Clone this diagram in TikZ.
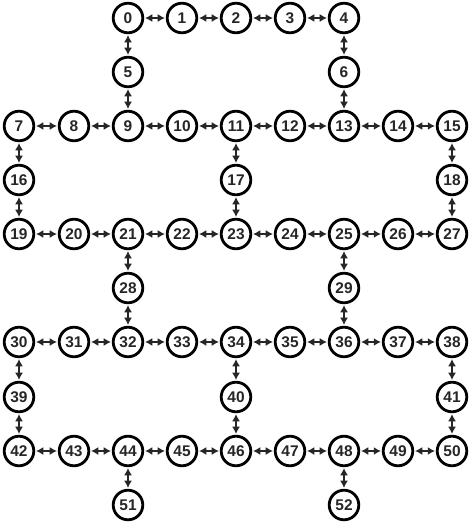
\documentclass[tikz,border=0pt]{standalone}
\usepackage{fontspec}
\setmainfont{Liberation Sans}
\usetikzlibrary{arrows.meta}
\tikzstyle{cell}=[circle,draw=black,line width=2pt,fill=white,inner sep=0pt,minimum size=0.74cm,font=\fontsize{11}{13}\selectfont\bfseries,text=black!85]
\tikzstyle{link}=[{Latex[length=1.8mm,width=2mm]}-{Latex[length=1.8mm,width=2mm]},line width=1.6pt,black!85,shorten <=0.6pt,shorten >=0.6pt]

\begin{document}
\begin{tikzpicture}[x=0.025cm,y=-0.025cm]
		\useasboundingbox (0,0) rectangle (474,525);
		% row 0
		\node [cell] (n0) at (128,18) {0};
		\node [cell] (n1) at (182,18) {1};
		\node [cell] (n2) at (236,18) {2};
		\node [cell] (n3) at (290,18) {3};
		\node [cell] (n4) at (344,18) {4};
		\node [cell] (n5) at (128,72) {5};
		\node [cell] (n6) at (344,72) {6};
		% row 2
		\node [cell] (n7) at (19,126) {7};
		\node [cell] (n8) at (74,126) {8};
		\node [cell] (n9) at (128,126) {9};
		\node [cell] (n10) at (182,126) {10};
		\node [cell] (n11) at (236,126) {11};
		\node [cell] (n12) at (290,126) {12};
		\node [cell] (n13) at (344,126) {13};
		\node [cell] (n14) at (398,126) {14};
		\node [cell] (n15) at (452,126) {15};
		\node [cell] (n16) at (19,180) {16};
		\node [cell] (n17) at (236,180) {17};
		\node [cell] (n18) at (452,180) {18};
		% row 4
		\node [cell] (n19) at (19,234) {19};
		\node [cell] (n20) at (74,234) {20};
		\node [cell] (n21) at (128,234) {21};
		\node [cell] (n22) at (182,234) {22};
		\node [cell] (n23) at (236,234) {23};
		\node [cell] (n24) at (290,234) {24};
		\node [cell] (n25) at (344,234) {25};
		\node [cell] (n26) at (398,234) {26};
		\node [cell] (n27) at (452,234) {27};
		\node [cell] (n28) at (128,288) {28};
		\node [cell] (n29) at (344,288) {29};
		% row 6
		\node [cell] (n30) at (19,342) {30};
		\node [cell] (n31) at (74,342) {31};
		\node [cell] (n32) at (128,342) {32};
		\node [cell] (n33) at (182,342) {33};
		\node [cell] (n34) at (236,342) {34};
		\node [cell] (n35) at (290,342) {35};
		\node [cell] (n36) at (344,342) {36};
		\node [cell] (n37) at (398,342) {37};
		\node [cell] (n38) at (452,342) {38};
		\node [cell] (n39) at (19,397) {39};
		\node [cell] (n40) at (236,397) {40};
		\node [cell] (n41) at (452,397) {41};
		% row 8
		\node [cell] (n42) at (19,451) {42};
		\node [cell] (n43) at (74,451) {43};
		\node [cell] (n44) at (128,451) {44};
		\node [cell] (n45) at (182,451) {45};
		\node [cell] (n46) at (236,451) {46};
		\node [cell] (n47) at (290,451) {47};
		\node [cell] (n48) at (344,451) {48};
		\node [cell] (n49) at (398,451) {49};
		\node [cell] (n50) at (452,451) {50};
		\node [cell] (n51) at (128,505) {51};
		\node [cell] (n52) at (344,505) {52};

		\draw [link] (n0)--(n1);
		\draw [link] (n1)--(n2);
		\draw [link] (n2)--(n3);
		\draw [link] (n3)--(n4);
		\draw [link] (n0)--(n5);
		\draw [link] (n5)--(n9);
		\draw [link] (n4)--(n6);
		\draw [link] (n6)--(n13);

		\draw [link] (n7)--(n8);
		\draw [link] (n8)--(n9);
		\draw [link] (n9)--(n10);
		\draw [link] (n10)--(n11);
		\draw [link] (n11)--(n12);
		\draw [link] (n12)--(n13);
		\draw [link] (n13)--(n14);
		\draw [link] (n14)--(n15);
		\draw [link] (n7)--(n16);
		\draw [link] (n16)--(n19);
		\draw [link] (n11)--(n17);
		\draw [link] (n17)--(n23);
		\draw [link] (n15)--(n18);
		\draw [link] (n18)--(n27);

		\draw [link] (n19)--(n20);
		\draw [link] (n20)--(n21);
		\draw [link] (n21)--(n22);
		\draw [link] (n22)--(n23);
		\draw [link] (n23)--(n24);
		\draw [link] (n24)--(n25);
		\draw [link] (n25)--(n26);
		\draw [link] (n26)--(n27);
		\draw [link] (n21)--(n28);
		\draw [link] (n28)--(n32);
		\draw [link] (n25)--(n29);
		\draw [link] (n29)--(n36);

		\draw [link] (n30)--(n31);
		\draw [link] (n31)--(n32);
		\draw [link] (n32)--(n33);
		\draw [link] (n33)--(n34);
		\draw [link] (n34)--(n35);
		\draw [link] (n35)--(n36);
		\draw [link] (n36)--(n37);
		\draw [link] (n37)--(n38);
		\draw [link] (n30)--(n39);
		\draw [link] (n39)--(n42);
		\draw [link] (n34)--(n40);
		\draw [link] (n40)--(n46);
		\draw [link] (n38)--(n41);
		\draw [link] (n41)--(n50);

		\draw [link] (n42)--(n43);
		\draw [link] (n43)--(n44);
		\draw [link] (n44)--(n45);
		\draw [link] (n45)--(n46);
		\draw [link] (n46)--(n47);
		\draw [link] (n47)--(n48);
		\draw [link] (n48)--(n49);
		\draw [link] (n49)--(n50);
		\draw [link] (n44)--(n51);
		\draw [link] (n48)--(n52);
	\end{tikzpicture}
\end{document}
